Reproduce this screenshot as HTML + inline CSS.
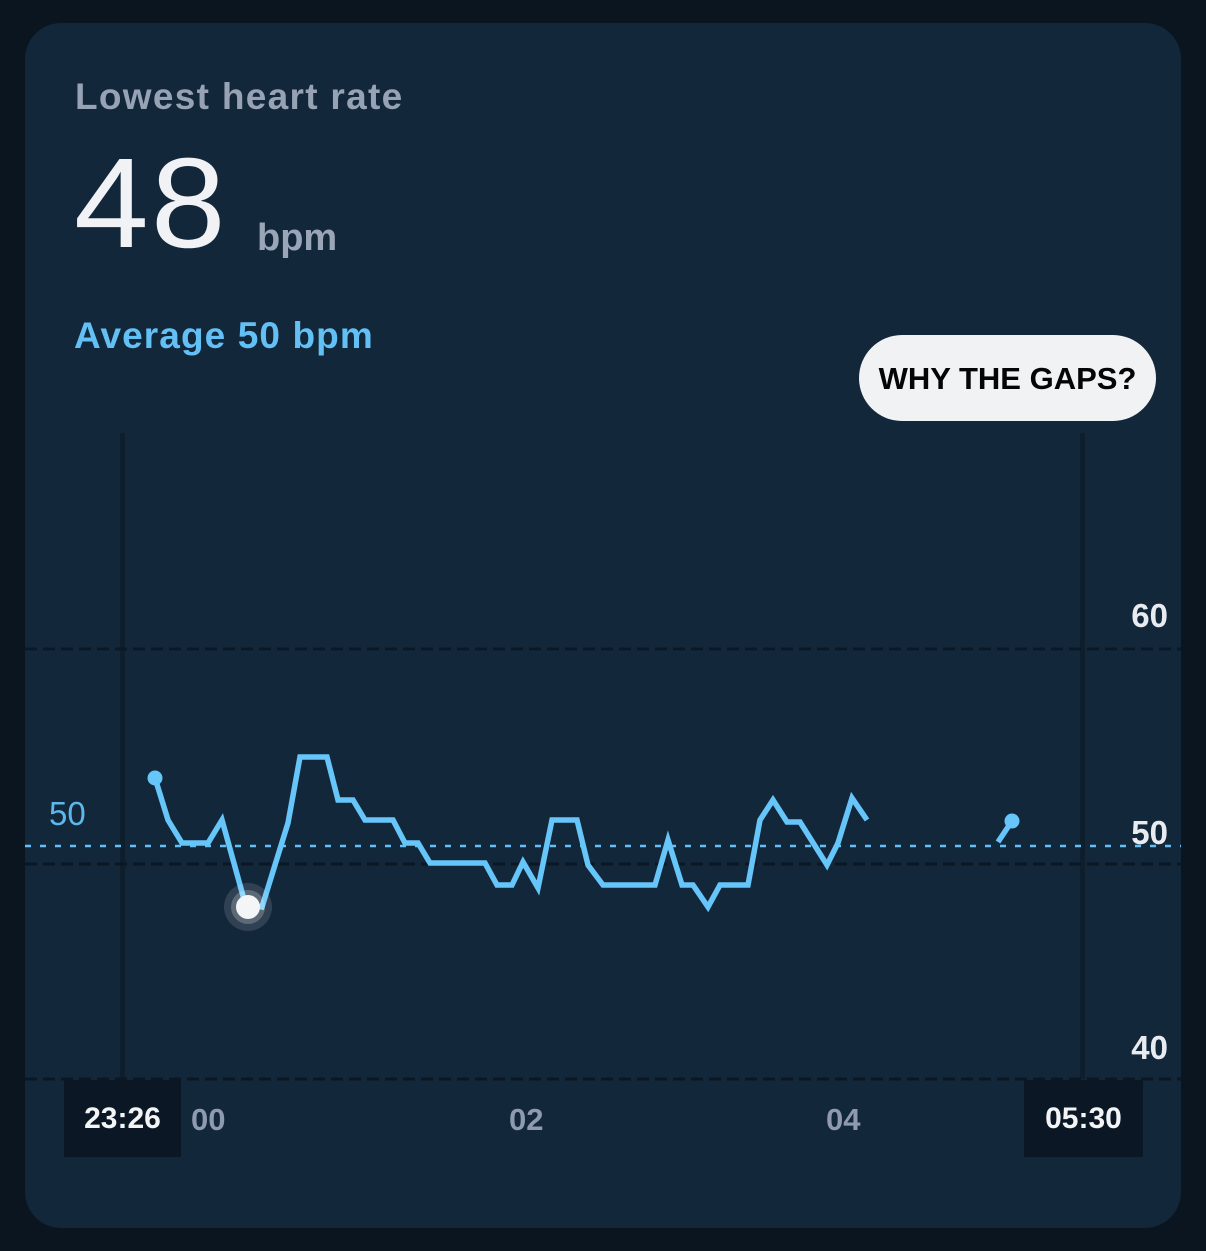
<!DOCTYPE html>
<html>
<head>
<meta charset="utf-8">
<style>
  html, body { margin:0; padding:0; }
  body { width:1206px; height:1251px; background:#0a1520; position:relative; overflow:hidden;
         font-family:"Liberation Sans", "DejaVu Sans", sans-serif; }
  .card { position:absolute; left:25px; top:23px; width:1156px; height:1205px; background:#13273b; border-radius:36px; }
  .t { position:absolute; white-space:nowrap; }
  svg { position:absolute; left:0; top:0; }
</style>
</head>
<body>
<div class="card"></div>

<svg width="1206" height="1251" viewBox="0 0 1206 1251">
  <!-- vertical bounds -->
  <rect x="120" y="433" width="5" height="646" fill="#0e1e2d"/>
  <rect x="1080" y="433" width="5" height="646" fill="#0e1e2d"/>
  <!-- grid lines -->
  <line x1="25" y1="649" x2="1181" y2="649" stroke="#0b1825" stroke-width="3" stroke-dasharray="12,6"/>
  <line x1="25" y1="864" x2="1181" y2="864" stroke="#0b1723" stroke-width="3" stroke-dasharray="12,6"/>
  <line x1="25" y1="1079" x2="1181" y2="1079" stroke="#0b1723" stroke-width="3" stroke-dasharray="12,6"/>
  <!-- average line -->
  <line x1="25" y1="846" x2="1181" y2="846" stroke="#62c0f5" stroke-width="2.5" stroke-dasharray="6,9"/>

  <!-- series -->
  <polyline fill="none" stroke="#66c5f9" stroke-width="5.5" stroke-linejoin="miter" stroke-miterlimit="4"
    points="155,778 168,820 182,843 208,843 222,820 245,903 262,907 288,823 300,757 327,757 338,800 353,800 365,820 393,820 405,843 418,843 430,863 485,863 497,885 512,885 523,862 538,888 552,820 577,820 588,865 603,885 655,885 668,840 682,885 693,885 708,907 720,885 748,885 760,820 773,800 787,822 800,822 827,865 838,843 852,798 867,820"/>
  <circle cx="155" cy="778" r="7.5" fill="#66c5f9"/>
  <line x1="998" y1="842" x2="1012" y2="821" stroke="#66c5f9" stroke-width="5.5"/>
  <circle cx="1012" cy="821" r="7.5" fill="#66c5f9"/>

  <!-- min marker -->
  <circle cx="248" cy="907" r="24" fill="rgba(255,255,255,0.12)"/>
  <circle cx="248" cy="907" r="17" fill="rgba(255,255,255,0.22)"/>
  <circle cx="248" cy="907" r="12" fill="#f4f5f7"/>

  <!-- x-axis end boxes -->
  <rect x="64" y="1080" width="117" height="77" fill="#0b1724"/>
  <rect x="1024" y="1080" width="119" height="77" fill="#0b1724"/>
</svg>

<div class="t" style="left:75px; top:76px; font-size:37px; font-weight:bold; color:#97a2b5; letter-spacing:1.3px;">Lowest heart rate</div>
<div class="t" style="left:74px; top:134px; font-size:128px; color:#f0f2f5; letter-spacing:2px; line-height:140px; transform:scaleX(1.05); transform-origin:left top;">48</div>
<div class="t" style="left:257px; top:217px; font-size:38px; font-weight:bold; color:#9aa5b8;">bpm</div>
<div class="t" style="left:74px; top:315px; font-size:37px; font-weight:bold; color:#62c0f5; letter-spacing:1.1px;">Average 50 bpm</div>

<div class="t" style="left:859px; top:335px; width:297px; height:86px; border-radius:43px; background:#f1f2f4; color:#050505; font-size:31px; font-weight:bold; line-height:88px; text-align:center;">WHY THE GAPS?</div>

<!-- y labels -->
<div class="t" style="left:1100px; width:68px; text-align:right; top:597px; font-size:33px; font-weight:bold; color:#e8ecf1;">60</div>
<div class="t" style="left:1100px; width:68px; text-align:right; top:814px; font-size:33px; font-weight:bold; color:#e8ecf1;">50</div>
<div class="t" style="left:1100px; width:68px; text-align:right; top:1029px; font-size:33px; font-weight:bold; color:#e8ecf1;">40</div>
<div class="t" style="left:49px; top:795px; font-size:33px; color:#5cb8ec;">50</div>

<!-- x labels -->
<div class="t" style="left:64px; width:117px; text-align:center; top:1102px; font-size:30px; font-weight:bold; color:#f2f4f6;">23:26</div>
<div class="t" style="left:191px; top:1102px; font-size:31px; font-weight:bold; color:#8f9aae;">00</div>
<div class="t" style="left:509px; top:1102px; font-size:31px; font-weight:bold; color:#8f9aae;">02</div>
<div class="t" style="left:826px; top:1102px; font-size:31px; font-weight:bold; color:#8f9aae;">04</div>
<div class="t" style="left:1024px; width:119px; text-align:center; top:1102px; font-size:30px; font-weight:bold; color:#f2f4f6;">05:30</div>
</body>
</html>
